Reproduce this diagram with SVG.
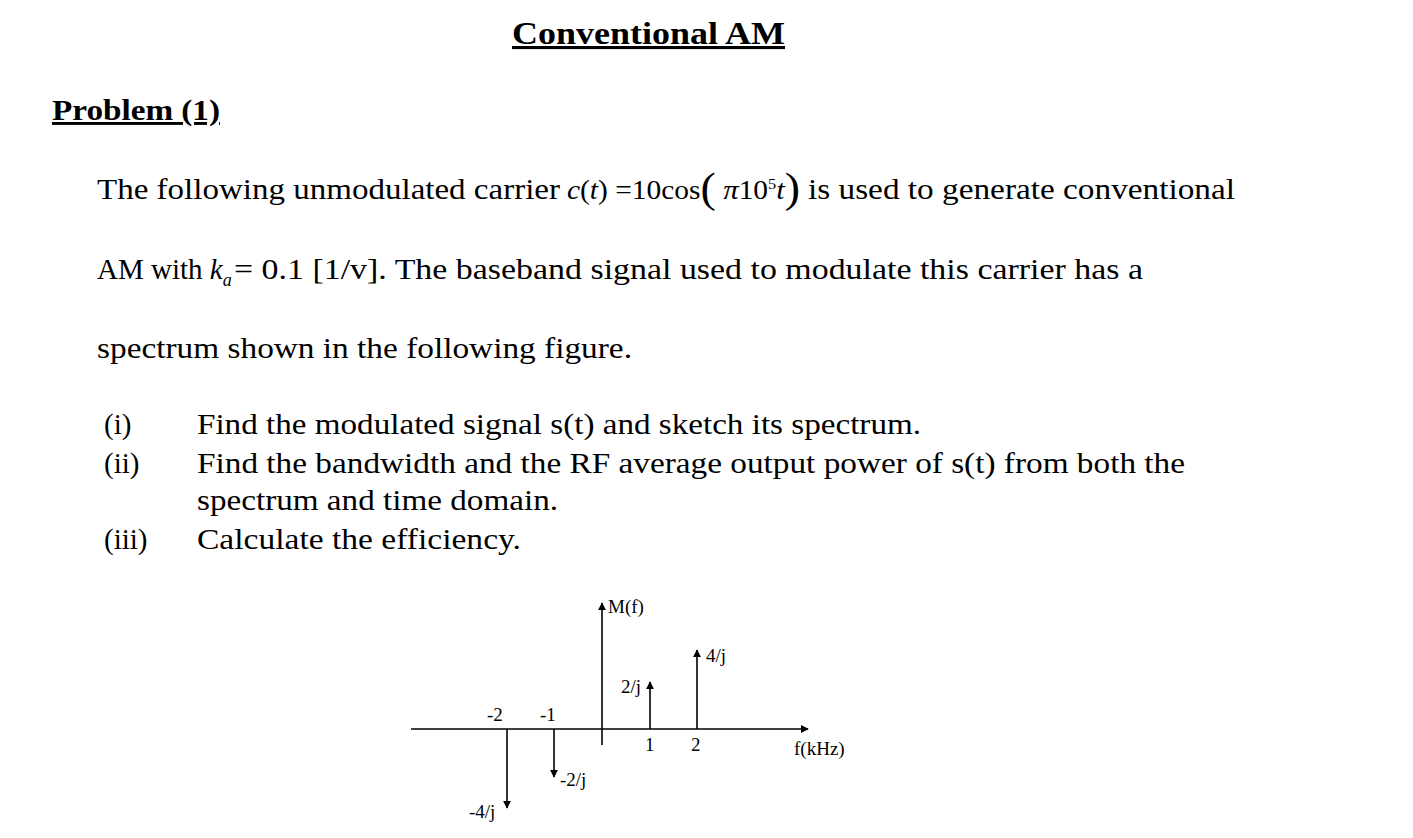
<svg xmlns="http://www.w3.org/2000/svg" width="1413" height="838" viewBox="0 0 1413 838">
<style>
text{font-family:"Liberation Serif",serif;fill:#000}
.b{font-weight:bold;font-size:31px;text-decoration:underline}
.t{font-size:29px}
.s{font-size:19px;font-family:"Liberation Serif",serif}
.l{stroke:#000;stroke-width:1.6;fill:none}
</style>
<defs><marker id="a" viewBox="0 0 10 10" refX="9" refY="5" markerWidth="8" markerHeight="8" markerUnits="userSpaceOnUse" orient="auto"><path d="M0,0L10,5L0,10z" fill="#000"/></marker></defs>
<rect width="1413" height="838" fill="#fff"/>
<text class="b" x="512" y="44" textLength="273" lengthAdjust="spacingAndGlyphs">Conventional AM</text>
<text class="b" x="52" y="120" style="font-size:29px" textLength="168" lengthAdjust="spacingAndGlyphs">Problem (1)</text>
<text class="t" x="97" y="199" textLength="463" lengthAdjust="spacingAndGlyphs">The following unmodulated carrier</text>
<text x="567" y="199" style="font-size:27px" textLength="233" lengthAdjust="spacingAndGlyphs"><tspan font-style="italic">c</tspan>(<tspan font-style="italic">t</tspan>) =10cos<tspan font-size="42" dy="3">(</tspan><tspan font-style="italic" dy="-3" font-size="28"> π</tspan>10<tspan font-size="15" dy="-10">5</tspan><tspan font-style="italic" dy="10" font-size="28">t</tspan><tspan font-size="42" dy="3">)</tspan></text>
<text class="t" x="808" y="199" textLength="427" lengthAdjust="spacingAndGlyphs">is used to generate conventional</text>
<text class="t" x="97" y="279">AM with <tspan font-style="italic">k</tspan><tspan font-style="italic" font-size="18" dy="7">a</tspan></text>
<text class="t" x="234" y="279" textLength="909" lengthAdjust="spacingAndGlyphs">= 0.1 [1/v]. The baseband signal used to modulate this carrier has a</text>
<text class="t" x="97" y="358" textLength="535" lengthAdjust="spacingAndGlyphs">spectrum shown in the following figure.</text>
<text class="t" x="104" y="434">(i)</text><text class="t" x="197" y="434" textLength="724" lengthAdjust="spacingAndGlyphs">Find the modulated signal s(t) and sketch its spectrum.</text>
<text class="t" x="104" y="473">(ii)</text><text class="t" x="197" y="473" textLength="988" lengthAdjust="spacingAndGlyphs">Find the bandwidth and the RF average output power of s(t) from both the</text>
<text class="t" x="197" y="510" textLength="361" lengthAdjust="spacingAndGlyphs">spectrum and time domain.</text>
<text class="t" x="104" y="549">(iii)</text><text class="t" x="197" y="549" textLength="324" lengthAdjust="spacingAndGlyphs">Calculate the efficiency.</text>
<g id="connectors">
<line class="l" x1="411" y1="729" x2="808" y2="729" marker-end="url(#a)"/>
<line class="l" x1="602" y1="745" x2="602" y2="603" marker-end="url(#a)"/>
<line class="l" x1="650" y1="729" x2="650" y2="682" marker-end="url(#a)"/>
<line class="l" x1="697" y1="729" x2="697" y2="650" marker-end="url(#a)"/>
<line class="l" x1="554" y1="729" x2="554" y2="777" marker-end="url(#a)"/>
<line class="l" x1="507" y1="729" x2="507" y2="808" marker-end="url(#a)"/>
</g>
<g id="labels">
<text class="s" x="608" y="613">M(f)</text>
<text class="s" x="706" y="662">4/j</text>
<text class="s" x="621" y="693">2/j</text>
<text class="s" x="487" y="721">-2</text>
<text class="s" x="540" y="721">-1</text>
<text class="s" x="645" y="751">1</text>
<text class="s" x="691" y="751">2</text>
<text class="s" x="794" y="755">f(kHz)</text>
<text class="s" x="560" y="786">-2/j</text>
<text class="s" x="469" y="818">-4/j</text>
</g>
</svg>
